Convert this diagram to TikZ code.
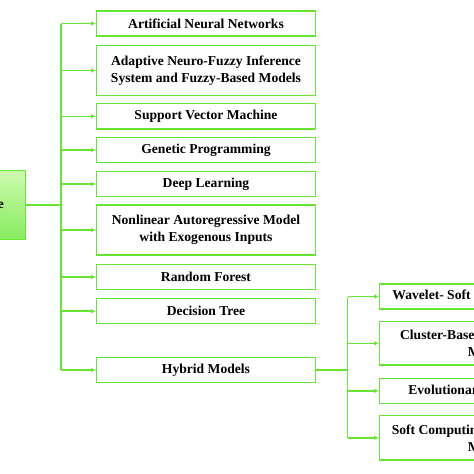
\documentclass[tikz,border=0pt]{standalone}
\usepackage{fontspec}
\setmainfont{Liberation Serif}
\usetikzlibrary{arrows.meta}
\definecolor{lgreen}{RGB}{102,230,51}
\tikzset{every picture/.style={line width=1.3pt}}
\tikzset{
  box/.style={draw=lgreen, fill=white, align=center, minimum width=218.6pt, inner sep=0pt,
    font=\fontsize{13.6}{17}\selectfont\bfseries},
  link/.style={draw=lgreen, line width=1.5pt},
  arr/.style={link, -{Latex[length=5pt,width=4.5pt]}}
}

\begin{document}
\begin{tikzpicture}[x=1pt,y=1pt,yscale=-1,xscale=1]
\useasboundingbox (0,0) rectangle (474,474);
\clip (0,0) rectangle (474,474);

% root box (cut by the frame)
\node (root) [anchor=east, draw=lgreen, top color={rgb,255:red,205;green,250;blue,175}, bottom color={rgb,255:red,135;green,236;blue,95},
  minimum height=68.6pt, inner xsep=21.5pt, font=\fontsize{13.6}{17}\selectfont\bfseries] at (26,205) {Artificial Intelligence};

% first level
\node (ann) [box, minimum height=25pt] at (206,23.5) {Artificial Neural Networks};
\node (anfis) [box, minimum height=49.7pt] at (206,70.5) {Adaptive Neuro-Fuzzy Inference\\System and Fuzzy-Based Models};
\node (svm) [box, minimum height=25.3pt] at (206,116.3) {Support Vector Machine};
\node (gp) [box, minimum height=25.3pt] at (206,150) {Genetic Programming};
\node (dl) [box, minimum height=24.7pt] at (206,184) {Deep Learning};
\node (narx) [box, minimum height=50pt] at (206,230) {Nonlinear Autoregressive Model\\with Exogenous Inputs};
\node (rf) [box, minimum height=24.7pt] at (206,277) {Random Forest};
\node (dt) [box, minimum height=25pt] at (206,311.2) {Decision Tree};
\node (hyb) [box, minimum height=24.7pt] at (206,370) {Hybrid Models};

% second level
\node (wav) [box, minimum height=25pt] at (489,296.5) {Wavelet- Soft Computing Models};
\node (clu) [box, minimum height=43.3pt] at (489,343.3) {Cluster-Based Soft Computing\\Models};
\node (evo) [box, minimum height=25pt] at (489,390.8) {Evolutionary-Based Models};
\node (soft) [box, minimum height=44.3pt] at (489,437.8) {Soft Computing Optimizer-Based\\Models};

% connectors
\coordinate (trunk) at (61,205);
\coordinate (subtrunk) at (347.7,370);
\draw [link] (root.east) -- (trunk);
\draw [link] (trunk |- ann) -- (trunk |- hyb);
\foreach \n in {ann,anfis,svm,gp,dl,narx,rf,dt,hyb}
  \draw [arr] (trunk |- \n) -- (\n.west);
\draw [link] (hyb.east) -- (subtrunk);
\draw [link] (subtrunk |- wav) -- (subtrunk |- soft);
\foreach \n in {wav,clu,evo,soft}
  \draw [arr] (subtrunk |- \n) -- (\n.west);

\end{tikzpicture}
\end{document}
